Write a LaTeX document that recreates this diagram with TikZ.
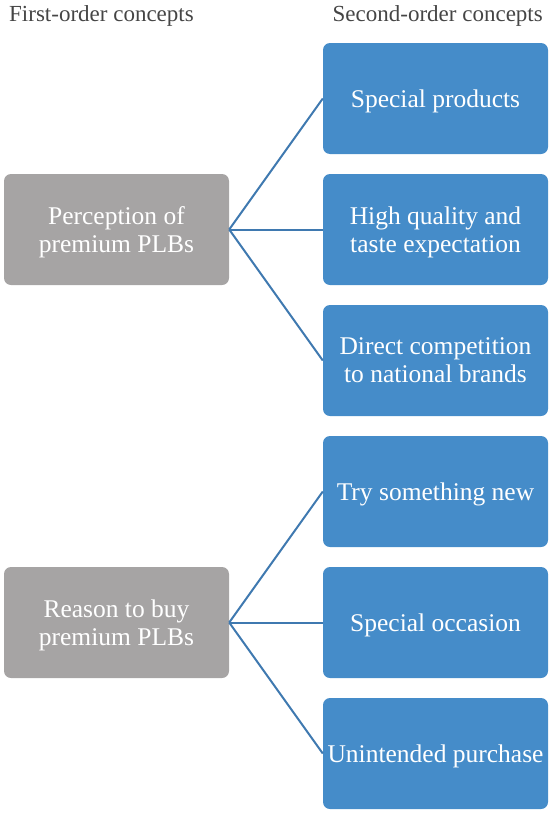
\documentclass[tikz,border=0pt]{standalone}
\usepackage{fontspec}
\setmainfont{Liberation Serif}
\definecolor{boxblue}{HTML}{458CC9}
\definecolor{boxgrey}{HTML}{A6A4A4}
\definecolor{linkblue}{HTML}{3F79B0}
\definecolor{headgrey}{HTML}{454545}
\begin{document}
\begin{tikzpicture}[x=1pt,y=-1pt,
  firstbox/.style={fill=boxgrey,draw=none,rounded corners=7pt,minimum width=225pt,minimum height=111pt,inner sep=0pt,text=white,align=center,text depth=0pt,font=\fontsize{25.5}{28}\selectfont},
  secondbox/.style={fill=boxblue,draw=none,rounded corners=7pt,minimum width=225pt,minimum height=111pt,inner sep=0pt,text=white,align=center,text depth=0pt,font=\fontsize{25.5}{28}\selectfont},
  header/.style={text=headgrey,font=\fontsize{23}{26}\selectfont,inner sep=0pt},
  link/.style={draw=linkblue,line width=2pt}]
\useasboundingbox (0,0) rectangle (552,814);
\node[header,anchor=base west] (h1) at (9,21) {First-order concepts};
\node[header,anchor=base east] (h2) at (543,21) {Second-order concepts};
\node[firstbox] (f1) at (116.5,229.5) {Perception of\\premium PLBs};
\node[firstbox] (f2) at (116.5,622.5) {Reason to buy\\premium PLBs};
\node[secondbox] (s1) at (435.5,98.5) {Special products};
\node[secondbox] (s2) at (435.5,229.5) {High quality and\\taste expectation};
\node[secondbox] (s3) at (435.5,360.5) {Direct competition\\to national brands};
\node[secondbox] (s4) at (435.5,491.5) {Try something new};
\node[secondbox] (s5) at (435.5,622.5) {Special occasion};
\node[secondbox] (s6) at (435.5,753.5) {Unintended purchase};
\draw[link] (f1.east) -- (s1.west);
\draw[link] (f1.east) -- (s2.west);
\draw[link] (f1.east) -- (s3.west);
\draw[link] (f2.east) -- (s4.west);
\draw[link] (f2.east) -- (s5.west);
\draw[link] (f2.east) -- (s6.west);
\end{tikzpicture}
\end{document}
